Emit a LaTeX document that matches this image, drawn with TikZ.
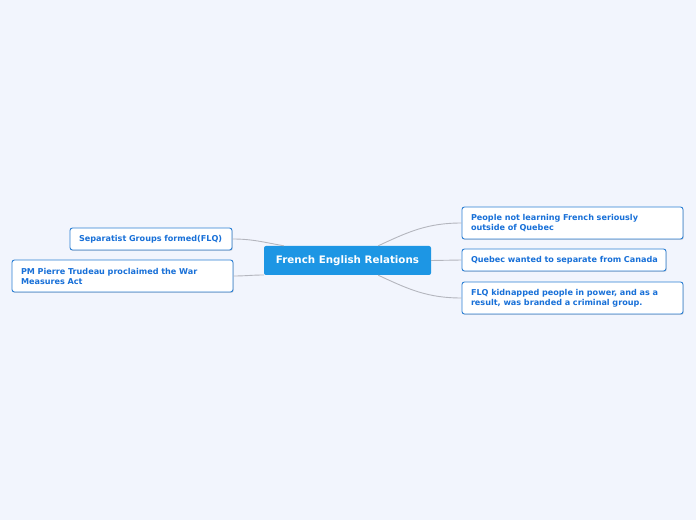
\documentclass[tikz,border=0pt]{standalone}
\usepackage{fontspec}
\setmainfont{DejaVu Sans}
\usepackage{tikz}
\usetikzlibrary{positioning,shadows}
\definecolor{bgpage}{HTML}{F2F5FD}
\definecolor{rootblue}{HTML}{1D96E4}
\definecolor{topicline}{HTML}{2B7FD4}
\definecolor{topictext}{HTML}{1870D8}
\definecolor{linkgray}{HTML}{B4B6BE}

\tikzset{
  root/.style={fill=rootblue, text=white, rounded corners=2pt, font=\fontsize{10.3}{12}\selectfont\bfseries,
    minimum width=167pt, minimum height=29pt, inner sep=0pt},
  topic/.style={draw=topicline, line width=0.9pt, fill=white, text=topictext, rounded corners=2.5pt,
    font=\fontsize{8.1}{10}\selectfont\bfseries, align=left, inner xsep=9pt, inner ysep=0pt,
    drop shadow={shadow xshift=0.8pt, shadow yshift=-1pt, opacity=0.25}},
  link/.style={draw=linkgray, line width=0.9pt}
}

\begin{document}
\begin{tikzpicture}[x=1pt,y=1pt]
\fill[bgpage] (0,0) rectangle (696,520);
\useasboundingbox (0,0) rectangle (696,520);

\node[root] (rel) at (347.5,259.5) {French English Relations};

\node[topic, text width=144pt, minimum height=22pt] (sep) at (151,281) {\mbox{Separatist Groups formed(FLQ)}};
\node[topic, text width=203pt, minimum height=32pt] (pm) at (122.5,244) {PM Pierre Trudeau proclaimed the War\\Measures Act};

\node[topic, text width=203pt, minimum height=32pt] (people) at (572.5,297) {People not learning French seriously\\outside of Quebec};
\node[topic, text width=186pt, minimum height=22pt] (quebec) at (564,260) {\mbox{Quebec wanted to separate from Canada}};
\node[topic, text width=203pt, minimum height=32pt] (flq) at (572.5,222) {FLQ kidnapped people in power, and as a\\result, was branded a criminal group.};

\draw[link] ([xshift=20pt]rel.north west) to[out=170,in=0] (sep.east);
\draw[link] (rel.west |- 0,245) to[out=180,in=0] (pm.east);
\draw[link] ([xshift=-53pt]rel.north east) to[out=25,in=180] (people.west);
\draw[link] (rel.east) -- (quebec.west);
\draw[link] ([xshift=-53pt]rel.south east) to[out=-25,in=180] (flq.west);
\end{tikzpicture}
\end{document}
